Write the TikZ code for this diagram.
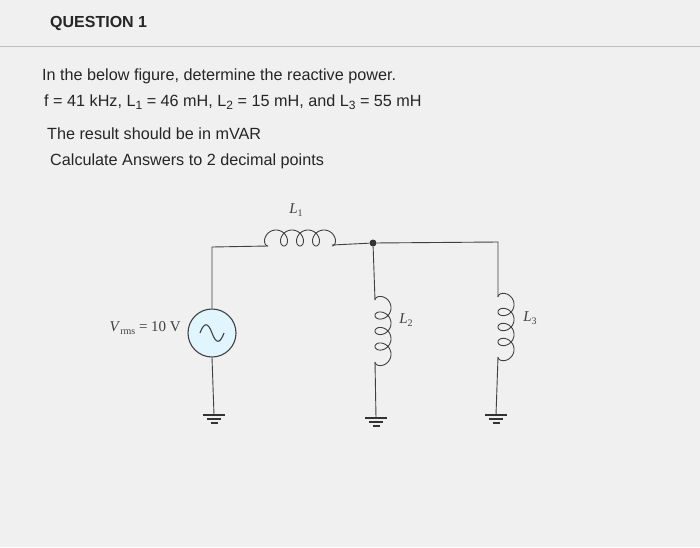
\documentclass[tikz,border=0pt]{standalone}
\usepackage{fontspec}
\setmainfont{Liberation Sans}
\newfontfamily\serif{Liberation Serif}
\newcommand{\sbs}[1]{\raisebox{-3pt}{\fontsize{12}{12}\selectfont #1}}
\newcommand{\ssb}[1]{\raisebox{-3pt}{\upshape\fontsize{10}{10}\selectfont #1}}
\begin{document}
\begin{tikzpicture}[x=1pt,y=-1pt,
  wire/.style={draw=black!75,line width=0.9pt},
  txt/.style={anchor=west,inner sep=0pt,font=\fontsize{16.2}{18}\selectfont,text=black!85},
  lab/.style={inner sep=0pt,font=\serif\itshape\fontsize{15}{16}\selectfont,text=black!75}]
\fill[black!6] (0,0) rectangle (700,547);
\useasboundingbox (0,0) rectangle (700,547);
\draw[black!25,line width=0.6pt] (0,46) -- (700,46);
\node[txt,font=\bfseries\fontsize{16}{18}\selectfont] (q) at (50,23) {QUESTION 1};
\node[txt] (t1) at (42,76) {In the below figure, determine the reactive power.};
\node[txt] (t2) at (44,102) {f = 41 kHz, L\sbs{1} = 46 mH, L\sbs{2} = 15 mH, and L\sbs{3} = 55 mH};
\node[txt] (t3) at (47,134) {The result should be in mVAR};
\node[txt] (t4) at (50,161) {Calculate Answers to 2 decimal points};
% source
\node[circle,draw=black!75,fill=cyan!12,line width=1.1pt,minimum size=48pt,inner sep=0pt] (src) at (212,333) {};
\draw[black!75,line width=1.1pt] (200,333) .. controls (204,322) and (208,322) .. (212,333) .. controls (216,344) and (220,344) .. (224,333);
\node[lab,anchor=east,font=\serif\fontsize{15}{16}\selectfont] (vl) at (181,328) {\textit{V}\ssb{rms} = 10 V};
\coordinate (a) at (212,247);
\coordinate (l1a) at (268,246);
\coordinate (l1b) at (332,245);
\node[circle,fill=black!80,inner sep=0pt,minimum size=7pt] (n) at (373,243) {};
\coordinate (b) at (498,242);
\coordinate (l3a) at (498,297);
\coordinate (l3b) at (498,357);
\coordinate (l2a) at (375,300);
\coordinate (l2b) at (375,362);
\coordinate (g1) at (214,415);
\coordinate (g2) at (376,418);
\coordinate (g3) at (496,415);
\draw[wire] (src.north) -- (a) -- (l1a);
\draw[wire] (l1b) -- (n) -- (b) -- (l3a);
\draw[wire] (n) -- (l2a);
\draw[wire] (l2b) -- (g2);
\draw[wire] (l3b) -- (g3);
\draw[wire] (src.south) -- (g1);
% coils
\draw[wire] plot[domain=0:1440,samples=240,variable=\t] ({268+2.546*\t*pi/180-7*sin(\t)},{246-8*(1-cos(\t))});
\draw[wire] plot[domain=0:1440,samples=240,variable=\t] ({375+8*(1-cos(\t))},{300+2.467*\t*pi/180-7*sin(\t)});
\draw[wire] plot[domain=0:1440,samples=240,variable=\t] ({498+8*(1-cos(\t))},{297+2.387*\t*pi/180-7*sin(\t)});
% grounds
\foreach \g in {g1,g2,g3}{
  \draw[black!80,line width=1.6pt] ([xshift=-11pt]\g) -- ([xshift=11pt]\g);
  \draw[black!80,line width=1.6pt] ([xshift=-7pt,yshift=-4pt]\g) -- ([xshift=7pt,yshift=-4pt]\g);
  \draw[black!80,line width=1.6pt] ([xshift=-3.5pt,yshift=-8pt]\g) -- ([xshift=3.5pt,yshift=-8pt]\g);
}
\node[lab] (L1) at (296,210) {L\ssb{1}};
\node[lab] (L2) at (406,320) {L\ssb{2}};
\node[lab] (L3) at (530,318) {L\ssb{3}};
\end{tikzpicture}
\end{document}
